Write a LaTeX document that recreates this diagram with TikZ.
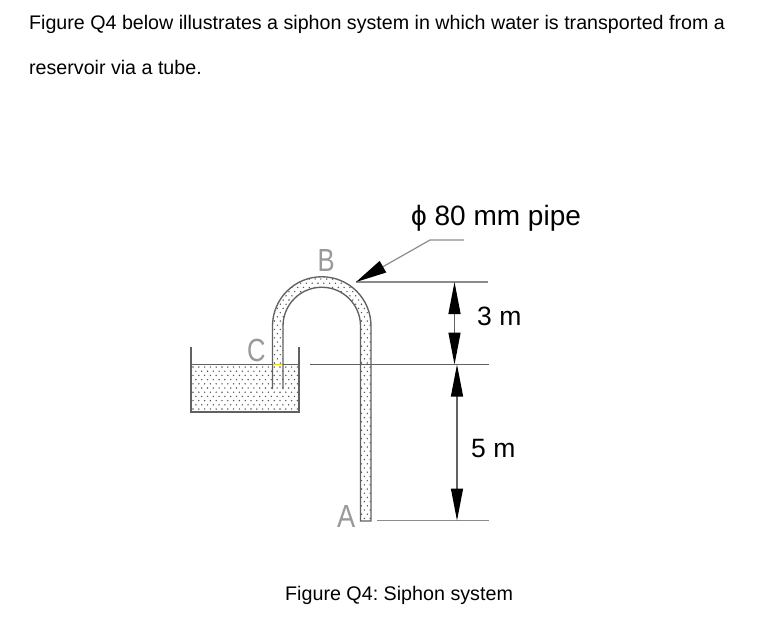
\documentclass[tikz,border=0pt]{standalone}
\usepackage{fontspec}
\setmainfont{Liberation Sans}
\usetikzlibrary{arrows.meta}
\definecolor{linegray}{gray}{0.38}
\definecolor{dotgray}{gray}{0.35}
\definecolor{lettergray}{gray}{0.6}
\definecolor{dimgray}{gray}{0.55}
\tikzset{
  bodytext/.style={inner sep=0pt,anchor=base west,font=\fontsize{19.65}{24}\selectfont,text=black},
  captext/.style={inner sep=0pt,anchor=base west,font=\fontsize{19.7}{24}\selectfont,text=black},
  dimtext/.style={inner sep=0pt,anchor=base west,font=\fontsize{26.5}{30}\selectfont,text=black},
  pipetext/.style={inner sep=0pt,anchor=base west,font=\fontsize{28}{30}\selectfont,text=black},
  letter/.style={inner sep=0pt,anchor=base west,font=\fontsize{32}{34}\selectfont,text=lettergray},
  pipeline/.style={draw=linegray,line width=1.35pt},
  guide/.style={draw=dimgray,line width=1.2pt},
  dimline/.style={draw=linegray,line width=1.2pt,{Triangle[length=32pt,width=12pt,color=black]}-{Triangle[length=32pt,width=12pt,color=black]}},
  leader/.style={draw=dimgray,line width=1.2pt,-{Triangle[length=31pt,width=13pt,color=black]}}
}
\newcommand{\dotfield}[4]{%
  \foreach \ii in {0,...,130}{%
    \pgfmathsetmacro{\yy}{#3+\ii*4.2}%
    \pgfmathparse{\yy<#4?1:0}%
    \ifnum\pgfmathresult=1
      \pgfmathsetmacro{\xoff}{mod(\ii,2)*2.9}%
      \foreach \jj in {0,...,40}{%
        \pgfmathsetmacro{\xx}{#1+\xoff+\jj*5.8}%
        \pgfmathparse{\xx<#2?1:0}%
        \ifnum\pgfmathresult=1
          \fill[dotgray] (\xx,\yy) circle (0.8);
        \fi
      }%
    \fi
  }%
}
\begin{document}
\frenchspacing
\begin{tikzpicture}[x=1pt,y=1pt,yscale=-1]
\useasboundingbox[fill=white] (0,0) rectangle (765,625);
% dots
\begin{scope}
  \clip (191,364) rectangle (299,412);
  \dotfield{193}{300}{367}{412}
\end{scope}
\begin{scope}
  \clip (272.5,364) -- (272.5,326) arc (180:360:49.25) -- (371,521) -- (360.5,521) -- (360.5,326) arc (0:-180:38.75) -- (283,364) -- cycle;
  \dotfield{274.5}{372}{279}{522}
\end{scope}
% tank
\coordinate (tankTL) at (191,347);
\coordinate (tankBL) at (191,412);
\coordinate (tankBR) at (299,412);
\coordinate (tankTR) at (299,347);
\draw[line width=1.4pt,draw=linegray] (tankTL) -- (tankBL) -- (tankBR) -- (tankTR);
\draw[draw=linegray,line width=1pt] (191,364) -- (272.5,364) (283,364) -- (299,364);
\draw[draw=yellow!90!black,line width=1pt] (272.5,364) -- (283,364);
% pipe
\draw[pipeline] (272.5,389) -- (272.5,326) arc (180:360:49.25) -- (371,521) -- (360.5,521) -- (360.5,326) arc (0:-180:38.75) -- (283,389);
% guide lines
\coordinate (topL) at (356,282);
\coordinate (topR) at (488,282);
\coordinate (midL) at (310,364.5);
\coordinate (midR) at (489,364.5);
\coordinate (botL) at (377,520.5);
\coordinate (botR) at (489,520.5);
\draw[guide] (topL) -- (topR);
\draw[draw=linegray,line width=1pt] (midL) -- (midR);
\draw[guide] (botL) -- (botR);
% dimensions
\coordinate (d3t) at (454.5,282);
\coordinate (d3b) at (454.5,364.5);
\coordinate (d5t) at (457,364.5);
\coordinate (d5b) at (457,520.5);
\draw[dimline] (d3t) -- (d3b);
\draw[dimline] (d5t) -- (d5b);
% leader
\coordinate (leadA) at (464,240);
\coordinate (leadB) at (430,240);
\coordinate (leadC) at (356,282);
\draw[leader] (leadA) -- (leadB) -- (leadC);
% text
\node[bodytext] (line1) at (29,29) {Figure Q4 below illustrates a siphon system in which water is transported from a};
\node[bodytext] (line2) at (29,74) {reservoir via a tube.};
\node[pipetext] (pipe) at (411,225) {ϕ 80 mm pipe};
\node[dimtext] (three) at (477,325) {3 m};
\node[dimtext] (five) at (471,457) {5 m};
\node[captext] (caption) at (285,600) {Figure Q4: Siphon system};
\node[letter] (B) at (317.5,271) {\scalebox{0.8}[1]{B}};
\node[letter] (C) at (247,361) {\scalebox{0.8}[1]{C}};
\node[letter] (A) at (337,527) {\scalebox{0.85}[1]{A}};
\end{tikzpicture}
\end{document}
